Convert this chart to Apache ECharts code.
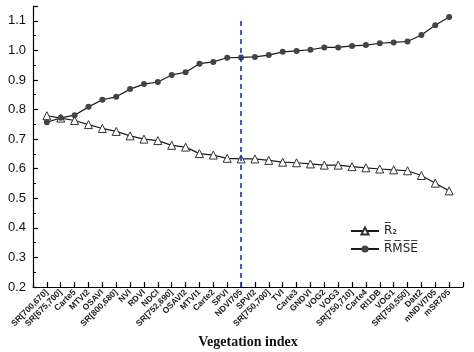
<!DOCTYPE html>
<html>
<head>
<meta charset="utf-8">
<script src="https://cdn.jsdelivr.net/npm/echarts@6/dist/echarts.min.js"></script>
<style>html,body{margin:0;padding:0;background:#fff}#c{width:474px;height:352px}</style>
</head>
<body>
<div id="c"></div>
<script>
var categories = ['SR[700,670]','SR[675,700]','Carte5','MTVI2','OSAVI','SR[800,680]','NVI','RDVI','NDCI','SR[752,690]','OSAVI2','MTVI1','Carte2','SPVI','NDVI705','SPVI2','SR[750,700]','TVI','Carte3','GNDVI','VOG2','VOG3','SR[750,710]','Carte4','RI1DB','VOG1','SR[750,550]','Datt2','mNDVI705','mSR705'];
var r2Values = [0.779,0.771,0.763,0.749,0.736,0.726,0.711,0.700,0.695,0.679,0.673,0.651,0.646,0.635,0.633,0.633,0.628,0.622,0.620,0.616,0.612,0.612,0.607,0.603,0.599,0.596,0.593,0.577,0.551,0.525];
var rmseValues = [0.757,0.772,0.781,0.809,0.833,0.843,0.869,0.886,0.893,0.917,0.926,0.955,0.961,0.975,0.976,0.978,0.984,0.995,0.998,1.002,1.010,1.010,1.015,1.018,1.024,1.027,1.030,1.052,1.085,1.113];
var yTicks = [0.2,0.3,0.4,0.5,0.6,0.7,0.8,0.9,1.0,1.1];
var markerCategory = 'NDVI705';
var seriesNames = ['R\u0305\u2082','R\u0305M\u0305S\u0305E\u0305'];
var xTitle = 'Vegetation index';

function pairs(arr){ return arr.map(function(v,i){ return [i+1, v]; }); }
var markIdx = categories.indexOf(markerCategory) + 1;

var chart = echarts.init(document.getElementById('c'), null, {renderer:'canvas'});
chart.setOption({
  animation:false,
  backgroundColor:'#fff',
  grid:{left:33, right:11, top:6, bottom:65, containLabel:false, outerBoundsMode:'none'},
  xAxis:{
    type:'value', min:0, max:categories.length+1, interval:1,
    name:xTitle, nameLocation:'middle', nameGap:48,
    nameTextStyle:{fontSize:14, fontWeight:'bold', color:'#111', fontFamily:'"Liberation Serif", "Times New Roman", serif'},
    splitLine:{show:false},
    axisLine:{lineStyle:{color:'#000', width:1.2}},
    axisTick:{inside:true, length:5, lineStyle:{color:'#000', width:1.2}},
    axisLabel:{
      rotate:45, fontSize:8.5, fontWeight:'bold', color:'#222', fontFamily:'Liberation Sans, Arial, sans-serif', margin:4,
      formatter:function(v){ return categories[v-1] || ''; }
    }
  },
  yAxis:{
    type:'value', min:0.2, max:1.15, interval:0.1,
    splitLine:{show:false},
    axisLine:{show:true, lineStyle:{color:'#000', width:1.2}},
    axisTick:{show:true, inside:true, length:5, lineStyle:{color:'#000', width:1.2}},
    minorTick:{show:true, splitNumber:2, length:3, lineStyle:{color:'#000', width:1}},
    axisLabel:{
      fontSize:13, color:'#111', fontFamily:'Liberation Sans, Arial, sans-serif', margin:7,
      formatter:function(v){
        for (var i=0;i<yTicks.length;i++){ if (Math.abs(v-yTicks[i])<1e-6) return yTicks[i].toFixed(1); }
        return '';
      }
    }
  },
  legend:{
    orient:'vertical', left:345, top:220, itemGap:6, itemWidth:28, itemHeight:9,
    textStyle:{fontSize:12, color:'#222', fontFamily:'DejaVu Sans, Liberation Sans, sans-serif'},
    data:[{name:seriesNames[0]},{name:seriesNames[1]}]
  },
  series:[
    {
      name:seriesNames[0], type:'line', data:pairs(r2Values),
      symbol:'triangle', symbolSize:8,
      lineStyle:{color:'#1a1a1a', width:1.2},
      itemStyle:{color:'#fff', borderColor:'#333', borderWidth:1},
      z:3,
      markLine:{
        silent:true, symbol:'none', label:{show:false},
        lineStyle:{color:'#1f2fc0', type:[5,4], width:1.6},
        data:[[{coord:[markIdx,0.2]},{coord:[markIdx,1.1]}]]
      }
    },
    {
      name:seriesNames[1], type:'line', data:pairs(rmseValues),
      symbol:'circle', symbolSize:6,
      lineStyle:{color:'#1a1a1a', width:1.2},
      itemStyle:{color:'#444', borderColor:'#444', borderWidth:0},
      z:3
    }
  ]
});
</script>
</body>
</html>
